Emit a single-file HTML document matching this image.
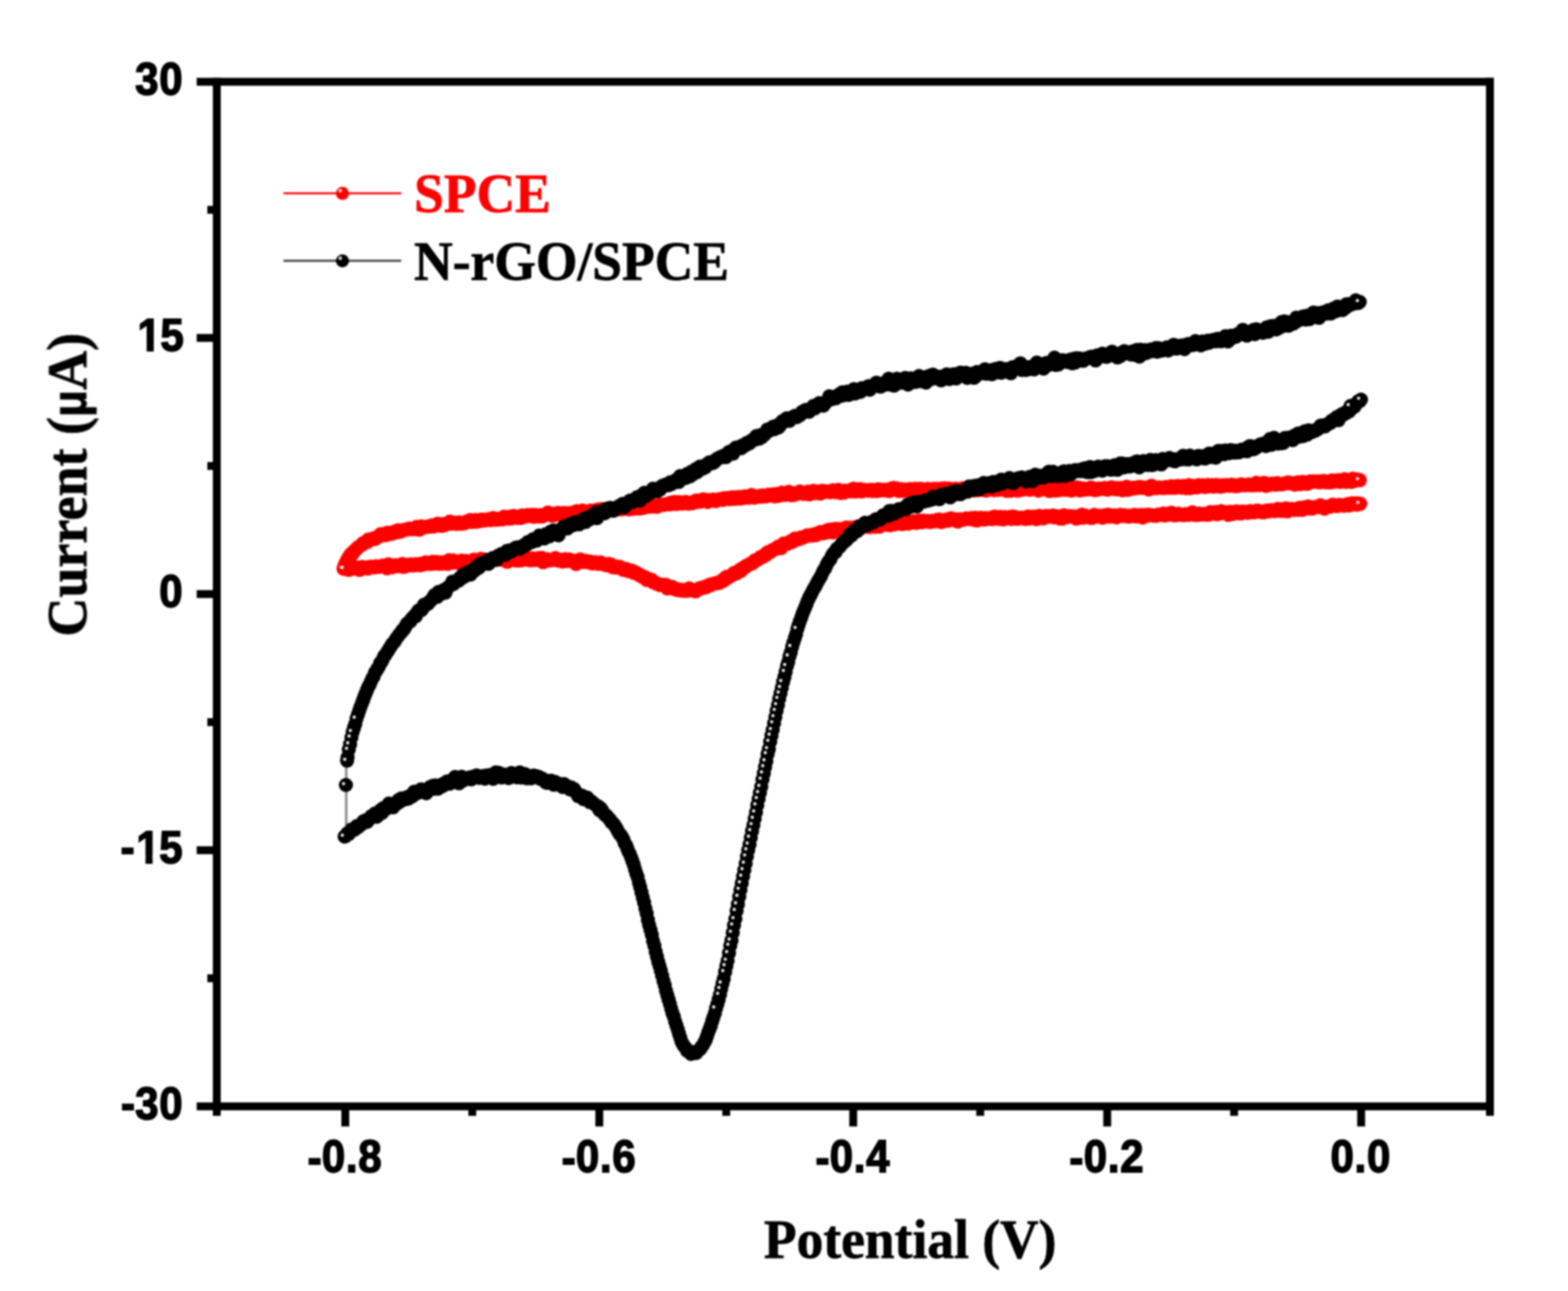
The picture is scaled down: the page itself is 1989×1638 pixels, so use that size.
<!DOCTYPE html>
<html lang="en"><head><meta charset="utf-8"><title>Cyclic voltammogram: SPCE vs N-rGO/SPCE</title>
<style>
html,body{margin:0;padding:0;background:#fff;}
body{width:1989px;height:1638px;overflow:hidden;}
svg{display:block;}
.tick{font-family:"Liberation Sans",Arial,Helvetica,sans-serif;font-weight:700;font-size:57.5px;letter-spacing:1px;fill:#000;stroke:#000;stroke-width:1.9px;stroke-linejoin:miter;}
.ttl{font-family:"Liberation Serif","Times New Roman",Times,serif;font-weight:700;font-size:70px;fill:#000;stroke:#000;stroke-width:.9px;}
.red{fill:#f00;stroke:#f00;}
.mu{font-family:"Liberation Sans",Arial,sans-serif;font-size:63px;stroke-width:.6px;}
</style></head><body>
<svg width="1989" height="1638" viewBox="0 0 1989 1638">
<defs><filter id="soft" color-interpolation-filters="sRGB" x="0" y="0" width="1989" height="1638" filterUnits="userSpaceOnUse"><feGaussianBlur stdDeviation="0.95"/></filter></defs>
<rect width="1989" height="1638" fill="#fff"/>
<g filter="url(#soft)">
<g stroke="#000" stroke-width="10.0" fill="none" stroke-linecap="butt">
<path d="M275.0 98.8V1415.8"/>
<path d="M1890.0 98.8V1415.8"/>
<path d="M249.5 103.8H1895.0"/>
<path d="M249.5 1403.8H1895.0"/>
<path d="M249.5 428.8H275.0M249.5 753.8H275.0M249.5 1078.8H275.0M263.0 266.3H275.0M263.0 591.3H275.0M263.0 916.3H275.0M263.0 1241.3H275.0M438.0 1403.8V1429.3M760.2 1403.8V1429.3M1082.3 1403.8V1429.3M1404.5 1403.8V1429.3M1726.6 1403.8V1429.3M599.1 1403.8V1415.8M921.2 1403.8V1415.8M1243.4 1403.8V1415.8M1565.5 1403.8V1415.8"/>
</g>
<text class="tick" transform="translate(232.6 120.1) scale(0.925 1)" text-anchor="end">30</text>
<text class="tick" transform="translate(232.6 445.1) scale(0.925 1)" text-anchor="end"><tspan dx="1.6">1</tspan><tspan dx="-1.6">5</tspan></text>
<text class="tick" transform="translate(232.6 770.1) scale(0.925 1)" text-anchor="end">0</text>
<text class="tick" transform="translate(232.6 1095.1) scale(0.925 1)" text-anchor="end"><tspan dy="-0.4">-</tspan><tspan dy="0.4" dx="-0.6"><tspan dx="1.6">1</tspan><tspan dx="-1.6">5</tspan></tspan></text>
<text class="tick" transform="translate(232.6 1420.1) scale(0.925 1)" text-anchor="end"><tspan dy="-0.4">-</tspan><tspan dy="0.4" dx="-0.6">30</tspan></text>
<text class="tick" transform="translate(437.6 1487) scale(0.925 1)" text-anchor="middle"><tspan dy="2.4">-</tspan><tspan dy="-2.4" dx="-0.6">0.8</tspan></text>
<text class="tick" transform="translate(759.8 1487) scale(0.925 1)" text-anchor="middle"><tspan dy="2.4">-</tspan><tspan dy="-2.4" dx="-0.6">0.6</tspan></text>
<text class="tick" transform="translate(1081.9 1487) scale(0.925 1)" text-anchor="middle"><tspan dy="2.4">-</tspan><tspan dy="-2.4" dx="-0.6">0.4</tspan></text>
<text class="tick" transform="translate(1404.0 1487) scale(0.925 1)" text-anchor="middle"><tspan dy="2.4">-</tspan><tspan dy="-2.4" dx="-0.6">0.2</tspan></text>
<text class="tick" transform="translate(1726.2 1487) scale(0.925 1)" text-anchor="middle">0.0</text>
<text class="ttl" transform="translate(1154.6 1595.6) scale(0.969 1)" text-anchor="middle">Potential (V)</text>
<text class="ttl" style="font-size:72px" transform="translate(109.4 615) rotate(-90) scale(0.952 1)" text-anchor="middle">Current (<tspan class="mu">µ</tspan>A)</text>
<path d="M359.5 245.3H509" stroke="#f00" stroke-width="2.6" fill="none"/>
<circle cx="434.4" cy="245.4" r="8.3" fill="#f00"/><circle cx="431.6" cy="242" r="2.3" fill="#fff" opacity=".85"/>
<text class="ttl red" transform="translate(525.3 268.8) scale(0.969 1)">SPCE</text>
<path d="M359.5 330.9H509" stroke="#444" stroke-width="2.6" fill="none"/>
<circle cx="434.4" cy="331" r="8.3" fill="#000"/><circle cx="431.6" cy="327.6" r="2.3" fill="#fff" opacity=".85"/>
<text class="ttl" transform="translate(525.3 355) scale(0.969 1)">N-rGO/SPCE</text>
<g fill="none" stroke-linecap="round" stroke-linejoin="round">
<path d="M439.2 970V1054" stroke="#8e8e8e" stroke-width="3.3" stroke-linecap="butt"/>
<path d="M437.1 721.6h0M438.8 721.5h0M440.5 719.3h0M442.3 723.0h0M444.0 719.5h0M445.7 720.4h0M447.5 721.6h0M449.2 719.8h0M450.9 719.9h0M452.7 720.0h0M454.4 721.4h0M456.1 723.0h0M457.9 720.7h0M459.6 719.4h0M461.4 721.0h0M463.1 719.8h0M464.8 720.2h0M466.6 721.3h0M468.3 719.3h0M470.0 720.0h0M471.8 719.0h0M473.5 719.6h0M475.3 719.9h0M477.0 718.6h0M478.7 719.1h0M480.5 719.1h0M482.2 718.6h0M484.0 718.0h0M485.7 717.6h0M487.5 718.8h0M489.2 718.6h0M491.0 721.0h0M492.7 716.2h0M494.4 718.6h0M496.2 718.8h0M497.9 719.6h0M499.7 718.7h0M501.4 717.2h0M503.2 717.9h0M504.9 718.4h0M506.7 717.4h0M508.4 718.4h0M510.2 715.6h0M511.9 719.1h0M513.7 718.7h0M515.4 716.8h0M517.2 717.6h0M518.9 717.0h0M520.7 716.0h0M522.4 716.8h0M524.2 717.5h0M525.9 716.1h0M527.7 715.9h0M529.4 716.1h0M531.2 716.5h0M532.9 717.2h0M534.7 715.2h0M536.4 716.2h0M538.2 715.8h0M539.9 713.6h0M541.7 715.0h0M543.4 715.1h0M545.2 715.1h0M546.9 715.4h0M548.7 712.9h0M550.4 714.8h0M552.2 714.0h0M553.9 713.1h0M555.7 715.0h0M557.4 715.1h0M559.2 713.6h0M561.0 715.0h0M562.7 713.6h0M564.5 714.0h0M566.2 712.7h0M568.0 715.3h0M569.7 710.9h0M571.5 713.4h0M573.2 714.0h0M575.0 711.2h0M576.7 713.0h0M578.5 713.0h0M580.3 713.8h0M582.0 714.1h0M583.8 712.3h0M585.5 711.3h0M587.3 713.9h0M589.0 713.7h0M590.8 711.9h0M592.5 712.6h0M594.3 712.5h0M596.1 712.6h0M597.8 712.2h0M599.6 713.3h0M601.3 710.1h0M603.1 712.7h0M604.8 712.0h0M606.6 711.3h0M608.3 712.6h0M610.1 709.0h0M611.9 712.4h0M613.6 711.6h0M615.4 710.0h0M617.1 711.5h0M618.9 710.7h0M620.6 713.5h0M622.4 712.7h0M624.1 711.2h0M625.9 710.0h0M627.6 710.1h0M629.4 710.3h0M631.2 710.0h0M632.9 709.6h0M634.7 709.8h0M636.4 710.1h0M638.2 709.8h0M639.9 709.6h0M641.7 709.3h0M643.4 712.7h0M645.2 708.7h0M646.9 709.1h0M648.7 710.5h0M650.4 709.7h0M652.2 710.4h0M653.9 710.7h0M655.7 711.2h0M657.4 710.6h0M659.2 708.9h0M660.9 711.0h0M662.7 708.1h0M664.5 709.7h0M666.2 709.3h0M668.0 708.7h0M669.7 710.4h0M671.5 709.6h0M673.2 710.8h0M674.9 708.3h0M676.7 710.6h0M678.4 710.3h0M680.2 709.9h0M681.9 708.4h0M683.7 709.6h0M685.4 708.3h0M687.2 707.8h0M688.9 713.2h0M690.7 710.9h0M692.4 711.8h0M694.2 709.6h0M695.9 710.7h0M697.7 710.8h0M699.4 710.7h0M701.1 710.2h0M702.9 710.0h0M704.6 708.2h0M706.4 710.9h0M708.1 710.8h0M709.9 711.6h0M711.6 710.3h0M713.3 712.3h0M715.1 710.2h0M716.8 709.5h0M718.6 711.8h0M720.3 710.5h0M722.1 709.8h0M723.8 711.2h0M725.5 712.0h0M727.3 711.6h0M729.0 711.9h0M730.7 715.6h0M732.5 712.5h0M734.2 713.3h0M735.9 709.9h0M737.7 712.4h0M739.4 713.0h0M741.1 712.0h0M742.9 711.6h0M744.6 713.1h0M746.3 712.5h0M748.1 712.5h0M749.8 714.4h0M751.5 714.8h0M753.2 714.0h0M755.0 713.4h0M756.7 714.6h0M758.4 715.2h0M760.1 715.2h0M761.8 713.5h0M763.5 714.9h0M765.2 715.8h0M767.0 716.4h0M768.7 717.0h0M770.4 717.2h0M772.1 715.7h0M773.8 716.5h0M775.5 716.4h0M777.2 719.6h0M778.9 718.5h0M780.6 719.3h0M782.2 720.2h0M783.9 719.4h0M785.6 719.1h0M787.3 720.2h0M789.0 721.0h0M790.7 723.0h0M792.3 723.0h0M794.0 721.8h0M795.7 723.9h0M797.3 724.6h0M799.0 723.7h0M800.7 725.1h0M802.3 724.3h0M804.0 726.9h0M805.6 727.0h0M807.3 726.8h0M808.9 728.1h0M810.6 729.6h0M812.2 729.7h0M813.8 731.2h0M815.5 732.1h0M817.1 731.8h0M818.7 733.0h0M820.4 735.7h0M822.0 734.8h0M823.6 734.8h0M825.3 736.3h0M826.9 735.9h0M828.5 738.7h0M830.2 738.8h0M831.8 740.1h0M833.4 740.7h0M835.0 740.9h0M836.7 742.1h0M838.3 742.1h0M839.9 742.0h0M841.6 742.3h0M843.2 743.4h0M844.8 742.1h0M846.5 746.6h0M848.1 743.9h0M849.7 745.9h0M851.4 745.2h0M853.0 744.9h0M854.6 747.1h0M856.3 747.3h0M857.9 747.7h0M859.6 748.7h0M861.2 747.8h0M862.9 749.0h0M864.5 749.3h0M866.1 748.6h0M867.8 748.8h0M869.4 749.7h0M871.1 749.2h0M872.7 749.3h0M874.3 746.7h0M876.0 749.0h0M877.6 749.2h0M879.3 748.5h0M880.9 748.8h0M882.5 750.1h0M884.2 748.0h0M885.8 748.2h0M887.4 746.4h0M889.0 746.1h0M890.7 746.0h0M892.3 745.1h0M893.9 745.5h0M895.5 744.2h0M897.1 744.4h0M898.8 742.7h0M900.4 741.9h0M902.0 742.2h0M903.6 741.2h0M905.4 740.8h0M907.3 740.1h0M909.1 739.5h0M910.9 739.8h0M912.8 739.2h0M914.6 737.8h0M916.4 736.1h0M918.2 736.6h0M920.0 733.3h0M921.8 731.9h0M923.7 732.7h0M925.5 731.5h0M927.3 730.4h0M929.1 729.5h0M930.9 727.2h0M932.7 726.5h0M934.5 727.2h0M936.3 726.0h0M938.0 723.6h0M939.8 724.4h0M941.6 721.2h0M943.4 720.4h0M945.1 719.9h0M946.9 717.8h0M948.7 717.2h0M950.4 716.3h0M952.2 715.0h0M954.0 714.8h0M955.7 713.6h0M957.5 711.2h0M959.2 710.5h0M961.0 710.0h0M962.7 708.8h0M964.4 707.2h0M966.2 707.0h0M967.9 706.2h0M969.7 704.1h0M971.4 704.2h0M973.1 701.3h0M974.9 700.3h0M976.6 700.9h0M978.4 698.9h0M980.1 697.8h0M981.8 697.4h0M983.6 696.1h0M985.4 696.0h0M987.1 693.6h0M988.9 693.6h0M990.6 695.5h0M992.4 692.2h0M994.2 689.7h0M996.0 690.8h0M997.7 690.0h0M999.5 689.9h0M1001.3 688.0h0M1003.1 686.6h0M1004.9 687.6h0M1006.7 686.2h0M1008.6 683.3h0M1010.4 684.9h0M1012.2 683.3h0M1013.9 683.9h0M1015.5 682.1h0M1017.1 682.6h0M1018.8 681.5h0M1020.4 681.3h0M1022.0 680.3h0M1023.7 679.4h0M1025.4 679.4h0M1027.0 679.5h0M1028.7 678.8h0M1030.4 679.5h0M1032.0 678.0h0M1033.7 677.8h0M1035.4 678.8h0M1037.1 676.5h0M1038.8 676.6h0M1040.5 675.1h0M1042.2 675.4h0M1043.9 676.6h0M1045.6 675.0h0M1047.3 675.8h0M1049.1 673.0h0M1050.8 672.4h0M1052.5 673.7h0M1054.2 671.8h0M1056.0 675.5h0M1057.7 673.8h0M1059.4 671.1h0M1061.2 671.9h0M1062.9 671.3h0M1064.6 672.0h0M1066.4 671.3h0M1068.1 672.0h0M1069.9 672.3h0M1071.6 670.5h0M1073.4 669.3h0M1075.1 670.8h0M1076.9 669.9h0M1078.6 670.9h0M1080.4 669.5h0M1082.1 670.2h0M1083.8 669.5h0M1085.6 668.8h0M1087.3 668.4h0M1089.1 669.3h0M1090.8 670.9h0M1092.6 669.1h0M1094.3 667.9h0M1096.1 668.6h0M1097.8 667.8h0M1099.6 666.2h0M1101.3 667.6h0M1103.1 668.7h0M1104.8 666.7h0M1106.6 665.7h0M1108.3 667.1h0M1110.1 668.3h0M1111.8 667.2h0M1113.6 667.1h0M1115.3 668.2h0M1117.1 667.4h0M1118.8 666.3h0M1120.6 665.3h0M1122.3 665.5h0M1124.1 665.1h0M1125.8 665.9h0M1127.6 664.0h0M1129.3 666.3h0M1131.1 664.7h0M1132.8 664.0h0M1134.6 665.1h0M1136.3 662.1h0M1138.0 663.2h0M1139.8 663.2h0M1141.5 664.5h0M1143.3 663.1h0M1145.0 664.9h0M1146.8 662.9h0M1148.5 663.7h0M1150.3 662.4h0M1152.0 664.1h0M1153.8 662.6h0M1155.5 663.2h0M1157.3 662.1h0M1159.0 661.4h0M1160.8 662.1h0M1162.5 663.3h0M1164.3 661.1h0M1166.0 660.5h0M1167.8 661.6h0M1169.5 662.6h0M1171.3 660.6h0M1173.0 661.0h0M1174.8 661.6h0M1176.5 661.0h0M1178.3 661.5h0M1180.0 662.3h0M1181.7 661.1h0M1183.5 660.9h0M1185.2 661.6h0M1187.0 660.7h0M1188.7 659.7h0M1190.5 659.6h0M1192.2 659.4h0M1194.0 662.3h0M1195.7 660.3h0M1197.5 660.8h0M1199.2 660.8h0M1201.0 659.1h0M1202.7 660.6h0M1204.5 659.3h0M1206.2 657.7h0M1208.0 659.5h0M1209.7 658.6h0M1211.5 659.2h0M1213.2 659.8h0M1215.0 661.7h0M1216.7 658.8h0M1218.5 659.1h0M1220.2 659.6h0M1222.0 659.3h0M1223.7 658.9h0M1225.4 657.9h0M1227.2 658.0h0M1228.9 658.7h0M1230.7 657.6h0M1232.4 658.1h0M1234.2 657.4h0M1235.9 659.7h0M1237.7 657.0h0M1239.4 660.4h0M1241.2 657.8h0M1242.9 657.3h0M1244.7 657.1h0M1246.4 659.0h0M1248.2 659.2h0M1249.9 657.3h0M1251.7 658.4h0M1253.4 657.9h0M1255.2 657.7h0M1256.9 658.1h0M1258.7 658.6h0M1260.4 655.9h0M1262.2 655.5h0M1263.9 657.9h0M1265.7 657.6h0M1267.4 658.3h0M1269.2 655.9h0M1270.9 656.5h0M1272.6 659.0h0M1274.4 656.1h0M1276.1 657.7h0M1277.9 656.5h0M1279.6 656.9h0M1281.4 655.9h0M1283.1 658.4h0M1284.9 655.3h0M1286.6 655.9h0M1288.4 656.2h0M1290.1 658.2h0M1291.9 657.3h0M1293.6 657.6h0M1295.4 656.9h0M1297.1 657.1h0M1298.9 657.3h0M1300.6 658.4h0M1302.4 657.0h0M1304.1 655.3h0M1305.9 657.9h0M1307.6 656.8h0M1309.4 655.5h0M1311.1 656.4h0M1312.9 655.6h0M1314.6 658.6h0M1316.4 656.2h0M1318.1 654.5h0M1319.9 656.7h0M1321.6 655.6h0M1323.4 657.7h0M1325.1 656.5h0M1326.9 654.5h0M1328.6 655.8h0M1330.4 655.2h0M1332.1 655.5h0M1333.9 655.6h0M1335.6 654.2h0M1337.4 656.3h0M1339.1 655.2h0M1340.9 655.2h0M1342.6 656.8h0M1344.4 657.9h0M1346.1 655.4h0M1347.9 657.8h0M1349.6 653.9h0M1351.4 656.5h0M1353.1 655.3h0M1354.9 655.8h0M1356.6 654.8h0M1358.4 655.2h0M1360.1 655.4h0M1361.9 655.4h0M1363.6 656.1h0M1365.4 658.0h0M1367.1 655.0h0M1368.9 655.5h0M1370.6 653.8h0M1372.4 653.0h0M1374.1 656.9h0M1375.9 654.2h0M1377.6 654.7h0M1379.4 655.4h0M1381.1 656.3h0M1382.9 655.7h0M1384.6 657.2h0M1386.4 655.1h0M1388.1 653.4h0M1389.9 655.4h0M1391.6 655.3h0M1393.4 654.4h0M1395.1 654.8h0M1396.9 654.5h0M1398.6 656.8h0M1400.4 654.4h0M1402.1 653.6h0M1403.9 655.3h0M1405.6 653.1h0M1407.4 655.4h0M1409.1 655.3h0M1410.9 654.0h0M1412.6 654.3h0M1414.4 654.2h0M1416.1 656.4h0M1417.9 655.1h0M1419.6 653.5h0M1421.4 653.4h0M1423.1 654.6h0M1424.9 654.6h0M1426.6 653.8h0M1428.4 654.8h0M1430.1 654.3h0M1431.9 655.5h0M1433.6 654.9h0M1435.4 654.3h0M1437.1 654.5h0M1438.9 653.4h0M1440.6 655.2h0M1442.4 654.6h0M1444.1 653.8h0M1445.9 654.3h0M1447.6 653.6h0M1449.4 656.6h0M1451.1 653.6h0M1452.9 654.5h0M1454.6 654.3h0M1456.4 653.1h0M1458.1 653.9h0M1459.9 653.5h0M1461.6 654.0h0M1463.4 654.0h0M1465.1 654.5h0M1466.9 654.4h0M1468.6 653.2h0M1470.4 653.1h0M1472.1 652.9h0M1473.9 652.6h0M1475.6 651.7h0M1477.4 654.0h0M1479.1 653.3h0M1480.9 653.1h0M1482.6 651.6h0M1484.4 651.7h0M1486.1 650.6h0M1487.9 653.0h0M1489.6 653.7h0M1491.4 653.6h0M1493.1 652.9h0M1494.9 651.8h0M1496.6 652.9h0M1498.4 652.8h0M1500.1 653.5h0M1501.9 653.5h0M1503.6 652.4h0M1505.4 652.6h0M1507.1 653.2h0M1508.9 652.9h0M1510.6 652.3h0M1512.4 650.2h0M1514.1 651.7h0M1515.9 653.1h0M1517.6 652.4h0M1519.4 653.1h0M1521.1 651.7h0M1522.9 652.1h0M1524.6 652.8h0M1526.4 652.6h0M1528.1 652.2h0M1529.9 652.9h0M1531.6 653.0h0M1533.4 653.0h0M1535.1 649.9h0M1536.9 651.0h0M1538.6 651.1h0M1540.4 651.0h0M1542.1 649.7h0M1543.9 652.5h0M1545.6 650.2h0M1547.4 651.2h0M1549.1 648.6h0M1550.9 650.5h0M1552.6 650.6h0M1554.4 649.9h0M1556.1 651.5h0M1557.9 653.1h0M1559.6 649.7h0M1561.4 649.7h0M1563.1 652.2h0M1564.9 650.9h0M1566.6 650.0h0M1568.4 648.9h0M1570.1 650.9h0M1571.9 650.3h0M1573.6 651.5h0M1575.4 649.0h0M1577.1 649.6h0M1578.9 649.4h0M1580.6 649.4h0M1582.4 650.6h0M1584.1 650.3h0M1585.9 648.7h0M1587.6 649.2h0M1589.3 649.0h0M1591.1 650.0h0M1592.8 648.9h0M1594.6 647.8h0M1596.3 648.5h0M1598.1 648.7h0M1599.8 649.6h0M1601.6 649.8h0M1603.3 649.8h0M1605.1 648.7h0M1606.8 647.8h0M1608.6 648.8h0M1610.3 647.9h0M1612.1 647.3h0M1613.8 648.2h0M1615.6 648.2h0M1617.3 648.5h0M1619.0 646.7h0M1620.8 645.8h0M1622.5 647.8h0M1624.3 646.3h0M1626.0 648.1h0M1627.8 645.9h0M1629.5 646.3h0M1631.3 645.0h0M1633.0 648.7h0M1634.8 646.1h0M1636.5 646.4h0M1638.3 645.8h0M1640.0 646.0h0M1641.7 646.9h0M1643.5 646.1h0M1645.2 645.8h0M1647.0 646.9h0M1648.7 644.3h0M1650.5 646.6h0M1652.2 646.9h0M1654.0 643.8h0M1655.7 645.4h0M1657.4 643.7h0M1659.2 642.7h0M1660.9 643.9h0M1662.7 645.1h0M1664.4 645.2h0M1666.2 644.0h0M1667.9 643.3h0M1669.7 643.6h0M1671.4 643.2h0M1673.1 643.1h0M1674.9 641.2h0M1676.6 643.3h0M1678.4 643.2h0M1680.1 645.4h0M1681.9 643.7h0M1683.6 642.8h0M1685.3 642.8h0M1687.1 642.9h0M1688.8 641.8h0M1690.6 640.3h0M1692.3 641.4h0M1694.1 641.8h0M1695.8 642.0h0M1697.5 641.0h0M1699.3 640.6h0M1701.0 641.1h0M1702.8 641.3h0M1704.5 641.6h0M1706.2 640.7h0M1708.0 641.2h0M1709.7 639.6h0M1711.5 641.2h0M1713.2 640.2h0M1714.9 638.7h0M1716.7 639.7h0M1718.4 639.8h0M1720.2 638.5h0M1721.9 640.1h0M1723.6 638.9h0M1725.4 639.1h0" stroke="#f00" stroke-width="18.2"/>
<path d="M1724.8 609.2h0M1723.1 608.7h0M1721.3 608.8h0M1719.6 608.4h0M1717.8 610.4h0M1716.1 607.3h0M1714.3 611.4h0M1712.6 609.0h0M1710.8 610.1h0M1709.1 609.7h0M1707.3 611.4h0M1705.6 608.0h0M1703.8 609.8h0M1702.1 609.8h0M1700.3 611.4h0M1698.6 609.3h0M1696.8 610.3h0M1695.1 609.7h0M1693.3 610.7h0M1691.6 611.3h0M1689.8 609.7h0M1688.1 612.0h0M1686.3 611.8h0M1684.6 611.5h0M1682.8 612.0h0M1681.1 610.5h0M1679.3 611.1h0M1677.6 610.4h0M1675.8 611.1h0M1674.1 612.0h0M1672.3 610.9h0M1670.6 611.2h0M1668.8 611.0h0M1667.1 610.9h0M1665.3 611.2h0M1663.6 611.9h0M1661.8 610.9h0M1660.1 612.3h0M1658.3 613.8h0M1656.6 613.0h0M1654.8 612.1h0M1653.1 611.5h0M1651.4 611.7h0M1649.6 614.2h0M1647.9 612.6h0M1646.1 612.0h0M1644.4 612.9h0M1642.6 614.9h0M1640.9 613.0h0M1639.1 613.6h0M1637.4 613.3h0M1635.6 612.7h0M1633.9 612.0h0M1632.1 612.9h0M1630.4 613.1h0M1628.6 614.0h0M1626.9 614.3h0M1625.1 614.4h0M1623.4 613.9h0M1621.6 614.5h0M1619.9 613.0h0M1618.1 615.0h0M1616.4 614.4h0M1614.6 613.6h0M1612.9 614.5h0M1611.1 614.0h0M1609.4 615.3h0M1607.6 615.7h0M1605.9 616.4h0M1604.1 612.9h0M1602.4 612.9h0M1600.6 613.9h0M1598.9 614.7h0M1597.1 615.5h0M1595.4 615.0h0M1593.6 612.7h0M1591.9 614.5h0M1590.1 615.7h0M1588.4 615.1h0M1586.6 615.7h0M1584.9 614.8h0M1583.2 614.9h0M1581.4 615.3h0M1579.7 615.6h0M1577.9 615.5h0M1576.2 615.5h0M1574.4 614.7h0M1572.7 615.8h0M1570.9 615.7h0M1569.2 616.7h0M1567.4 616.9h0M1565.7 615.9h0M1563.9 615.4h0M1562.2 615.2h0M1560.4 616.3h0M1558.7 616.0h0M1556.9 615.7h0M1555.2 616.1h0M1553.4 615.5h0M1551.7 616.9h0M1549.9 615.8h0M1548.2 617.5h0M1546.4 616.8h0M1544.7 617.0h0M1542.9 615.4h0M1541.2 616.7h0M1539.4 617.3h0M1537.7 615.7h0M1535.9 616.4h0M1534.2 616.8h0M1532.4 615.4h0M1530.7 617.2h0M1528.9 617.8h0M1527.2 616.1h0M1525.5 617.4h0M1523.7 615.8h0M1522.0 617.1h0M1520.2 615.6h0M1518.5 618.3h0M1516.7 617.7h0M1515.0 617.3h0M1513.2 616.6h0M1511.5 618.7h0M1509.7 619.4h0M1508.0 615.7h0M1506.2 618.8h0M1504.5 619.3h0M1502.7 618.0h0M1501.0 616.5h0M1499.2 618.6h0M1497.5 617.6h0M1495.7 617.3h0M1494.0 616.7h0M1492.2 618.5h0M1490.5 618.8h0M1488.7 617.4h0M1487.0 618.6h0M1485.2 617.0h0M1483.5 619.0h0M1481.7 618.3h0M1480.0 618.1h0M1478.2 618.2h0M1476.5 619.2h0M1474.7 619.2h0M1473.0 619.0h0M1471.2 618.6h0M1469.5 618.6h0M1467.7 619.2h0M1466.0 618.8h0M1464.2 619.3h0M1462.5 618.4h0M1460.7 616.3h0M1459.0 619.8h0M1457.3 621.0h0M1455.5 619.3h0M1453.8 618.8h0M1452.0 618.8h0M1450.3 618.8h0M1448.5 619.0h0M1446.8 617.9h0M1445.0 618.6h0M1443.3 618.1h0M1441.5 619.4h0M1439.8 618.9h0M1438.0 619.7h0M1436.3 619.1h0M1434.5 620.3h0M1432.8 619.5h0M1431.0 621.5h0M1429.3 617.5h0M1427.5 618.8h0M1425.8 620.3h0M1424.0 622.0h0M1422.3 619.3h0M1420.5 619.6h0M1418.8 619.3h0M1417.0 620.9h0M1415.3 619.3h0M1413.5 620.3h0M1411.8 619.4h0M1410.0 618.4h0M1408.3 620.1h0M1406.5 620.3h0M1404.8 621.1h0M1403.0 619.7h0M1401.3 619.2h0M1399.5 620.4h0M1397.8 620.1h0M1396.0 620.2h0M1394.3 619.9h0M1392.5 621.1h0M1390.8 620.4h0M1389.0 621.9h0M1387.3 621.2h0M1385.5 620.7h0M1383.8 618.5h0M1382.0 620.7h0M1380.3 620.5h0M1378.5 621.0h0M1376.8 621.2h0M1375.0 619.8h0M1373.3 621.0h0M1371.5 619.7h0M1369.8 622.2h0M1368.0 618.9h0M1366.3 618.5h0M1364.5 618.6h0M1362.8 619.4h0M1361.0 619.2h0M1359.3 622.3h0M1357.5 620.0h0M1355.8 619.0h0M1354.0 621.5h0M1352.3 619.8h0M1350.5 619.2h0M1348.8 621.3h0M1347.0 621.1h0M1345.3 620.0h0M1343.5 621.9h0M1341.8 620.6h0M1340.0 622.1h0M1338.3 621.0h0M1336.5 622.1h0M1334.7 620.6h0M1333.0 619.3h0M1331.2 623.0h0M1329.5 620.0h0M1327.7 620.3h0M1326.0 619.8h0M1324.2 620.4h0M1322.5 620.8h0M1320.7 620.8h0M1319.0 621.2h0M1317.2 622.4h0M1315.5 620.5h0M1313.7 619.4h0M1312.0 619.4h0M1310.2 619.9h0M1308.5 618.9h0M1306.7 621.4h0M1305.0 620.1h0M1303.2 620.3h0M1301.5 620.6h0M1299.7 619.2h0M1298.0 619.8h0M1296.2 621.3h0M1294.5 621.3h0M1292.7 620.2h0M1291.0 622.5h0M1289.2 619.4h0M1287.5 620.3h0M1285.7 620.4h0M1284.0 617.9h0M1282.2 622.6h0M1280.4 621.0h0M1278.7 619.6h0M1276.9 622.7h0M1275.2 621.3h0M1273.4 621.1h0M1271.7 620.1h0M1269.9 620.8h0M1268.2 619.2h0M1266.4 621.5h0M1264.7 620.3h0M1262.9 620.8h0M1261.2 621.9h0M1259.4 621.0h0M1257.7 621.0h0M1255.9 621.0h0M1254.2 620.0h0M1252.4 621.6h0M1250.7 622.3h0M1248.9 621.5h0M1247.2 621.6h0M1245.4 619.9h0M1243.7 619.9h0M1241.9 619.3h0M1240.2 622.0h0M1238.4 620.5h0M1236.6 622.2h0M1234.9 620.0h0M1233.1 620.3h0M1231.4 620.9h0M1229.6 621.7h0M1227.9 620.9h0M1226.1 621.0h0M1224.4 620.8h0M1222.6 621.0h0M1220.9 619.7h0M1219.1 620.9h0M1217.4 620.6h0M1215.6 620.8h0M1213.9 621.3h0M1212.1 620.2h0M1210.4 620.8h0M1208.6 620.6h0M1206.9 621.3h0M1205.1 621.7h0M1203.4 619.9h0M1201.6 621.5h0M1199.9 623.0h0M1198.1 619.5h0M1196.4 620.1h0M1194.6 620.1h0M1192.9 620.7h0M1191.1 622.6h0M1189.4 621.0h0M1187.6 620.3h0M1185.8 621.6h0M1184.1 620.4h0M1182.3 622.2h0M1180.6 621.4h0M1178.8 622.5h0M1177.1 620.4h0M1175.3 624.1h0M1173.6 621.9h0M1171.8 621.8h0M1170.1 621.1h0M1168.3 620.4h0M1166.6 620.3h0M1164.8 621.1h0M1163.1 620.4h0M1161.3 621.5h0M1159.6 620.4h0M1157.8 621.9h0M1156.1 622.3h0M1154.3 620.6h0M1152.6 622.5h0M1150.8 621.1h0M1149.1 622.5h0M1147.3 621.9h0M1145.6 622.6h0M1143.8 620.5h0M1142.1 621.4h0M1140.3 623.0h0M1138.6 620.9h0M1136.8 619.5h0M1135.1 619.7h0M1133.3 619.1h0M1131.6 619.5h0M1129.8 621.3h0M1128.1 623.0h0M1126.3 621.3h0M1124.6 622.1h0M1122.8 621.7h0M1121.1 621.9h0M1119.3 621.7h0M1117.6 621.8h0M1115.8 622.4h0M1114.1 620.8h0M1112.3 623.0h0M1110.6 623.0h0M1108.8 621.9h0M1107.1 623.0h0M1105.3 621.5h0M1103.6 621.7h0M1101.8 622.4h0M1100.1 622.1h0M1098.3 621.9h0M1096.6 621.7h0M1094.8 621.9h0M1093.1 623.5h0M1091.3 620.6h0M1089.6 623.0h0M1087.8 622.4h0M1086.1 623.4h0M1084.3 623.3h0M1082.6 620.0h0M1080.8 623.5h0M1079.1 623.2h0M1077.3 623.0h0M1075.6 622.6h0M1073.8 623.9h0M1072.1 622.7h0M1070.3 625.0h0M1068.6 623.8h0M1066.8 625.5h0M1065.1 622.6h0M1063.4 621.7h0M1061.6 624.2h0M1059.9 624.4h0M1058.1 623.7h0M1056.4 622.2h0M1054.6 623.3h0M1052.9 624.5h0M1051.1 623.8h0M1049.4 623.9h0M1047.6 623.9h0M1045.9 623.2h0M1044.1 623.7h0M1042.4 622.9h0M1040.6 626.2h0M1038.9 624.0h0M1037.1 625.0h0M1035.4 623.6h0M1033.7 625.5h0M1031.9 622.9h0M1030.2 625.8h0M1028.4 624.9h0M1026.7 627.2h0M1024.9 623.8h0M1023.2 625.3h0M1021.4 625.7h0M1019.7 626.6h0M1017.9 625.1h0M1016.2 625.7h0M1014.4 623.6h0M1012.7 625.0h0M1011.0 626.3h0M1009.2 627.1h0M1007.5 625.8h0M1005.7 628.2h0M1004.0 628.1h0M1002.2 626.3h0M1000.5 624.1h0M998.7 624.9h0M997.0 626.0h0M995.3 628.0h0M993.5 627.3h0M991.8 625.0h0M990.0 627.0h0M988.3 628.9h0M986.5 627.0h0M984.8 626.8h0M983.0 629.7h0M981.3 627.8h0M979.6 627.4h0M977.8 628.4h0M976.1 628.2h0M974.3 627.9h0M972.6 629.6h0M970.8 629.7h0M969.1 629.5h0M967.4 628.7h0M965.6 630.1h0M963.9 629.0h0M962.1 629.7h0M960.4 630.4h0M958.6 630.3h0M956.9 631.4h0M955.2 630.2h0M953.4 628.2h0M951.7 628.9h0M949.9 631.5h0M948.2 630.0h0M946.4 630.9h0M944.7 629.8h0M943.0 631.8h0M941.2 630.6h0M939.5 632.5h0M937.7 630.7h0M936.0 632.5h0M934.3 632.2h0M932.5 631.0h0M930.8 633.0h0M929.0 631.1h0M927.3 631.4h0M925.5 633.1h0M923.8 631.9h0M922.1 632.1h0M920.3 632.5h0M918.6 632.0h0M916.8 634.2h0M915.1 633.9h0M913.4 633.4h0M911.6 633.5h0M909.9 634.2h0M908.1 635.7h0M906.4 635.0h0M904.6 633.8h0M902.9 635.2h0M901.2 634.5h0M899.4 634.6h0M897.7 636.8h0M895.9 634.7h0M894.2 634.8h0M892.5 633.5h0M890.7 634.2h0M889.0 636.3h0M887.2 635.3h0M885.5 636.7h0M883.7 635.2h0M882.0 635.7h0M880.3 637.3h0M878.5 638.3h0M876.8 637.6h0M875.0 638.4h0M873.3 639.0h0M871.6 638.5h0M869.8 636.8h0M868.1 637.8h0M866.3 638.7h0M864.6 637.8h0M862.8 638.8h0M861.1 637.0h0M859.4 637.9h0M857.6 639.4h0M855.9 636.9h0M854.1 638.1h0M852.4 639.4h0M850.6 637.9h0M848.9 639.8h0M847.2 639.1h0M845.4 639.8h0M843.7 640.0h0M841.9 640.6h0M840.2 640.1h0M838.4 640.9h0M836.7 640.4h0M834.9 641.7h0M833.2 643.0h0M831.5 641.7h0M829.7 641.8h0M828.0 640.6h0M826.2 642.7h0M824.5 641.4h0M822.7 641.5h0M821.0 643.0h0M819.2 642.8h0M817.5 643.9h0M815.8 644.4h0M814.0 642.6h0M812.3 643.4h0M810.5 645.2h0M808.8 644.6h0M807.0 644.5h0M805.3 645.2h0M803.5 643.5h0M801.8 644.9h0M800.0 645.8h0M798.3 646.2h0M796.5 643.9h0M794.8 644.6h0M793.0 645.4h0M791.3 644.9h0M789.5 645.0h0M787.8 646.2h0M786.0 645.3h0M784.3 644.0h0M782.6 646.3h0M780.8 645.7h0M779.1 645.5h0M777.3 644.9h0M775.6 647.6h0M773.8 644.5h0M772.1 645.2h0M770.3 646.7h0M768.6 648.4h0M766.8 648.6h0M765.1 646.3h0M763.3 647.4h0M761.6 646.2h0M759.8 648.9h0M758.1 646.5h0M756.3 648.0h0M754.6 649.3h0M752.8 648.2h0M751.1 650.0h0M749.3 647.8h0M747.6 649.2h0M745.8 649.8h0M744.0 649.0h0M742.3 650.6h0M740.5 649.9h0M738.8 647.9h0M737.0 653.6h0M735.3 650.4h0M733.5 650.0h0M731.8 648.7h0M730.0 650.3h0M728.3 649.9h0M726.6 651.1h0M724.8 651.0h0M723.1 652.6h0M721.3 651.0h0M719.6 651.5h0M717.8 651.5h0M716.1 651.1h0M714.3 651.2h0M712.6 652.6h0M710.8 652.5h0M709.1 651.2h0M707.3 650.8h0M705.6 652.0h0M703.8 653.4h0M702.1 652.3h0M700.3 654.2h0M698.6 651.8h0M696.8 652.9h0M695.1 650.4h0M693.3 652.4h0M691.6 652.9h0M689.9 653.8h0M688.1 655.1h0M686.4 653.6h0M684.6 655.2h0M682.9 654.5h0M681.1 655.0h0M679.4 653.7h0M677.7 655.6h0M675.9 653.3h0M674.2 655.0h0M672.4 653.7h0M670.7 654.3h0M668.9 653.5h0M667.2 654.6h0M665.5 655.6h0M663.7 655.3h0M662.0 654.2h0M660.3 657.2h0M658.5 656.2h0M656.8 657.0h0M655.0 656.9h0M653.3 655.6h0M651.6 654.5h0M649.8 655.7h0M648.1 657.9h0M646.4 655.8h0M644.6 657.8h0M642.9 656.6h0M641.2 657.7h0M639.4 655.7h0M637.7 658.8h0M636.0 657.8h0M634.2 658.8h0M632.5 658.3h0M630.8 659.1h0M629.1 658.3h0M627.3 659.3h0M625.6 657.3h0M623.9 657.8h0M622.2 659.8h0M620.4 659.2h0M618.7 659.2h0M617.0 659.4h0M615.3 660.2h0M613.5 659.3h0M611.8 660.6h0M610.1 659.4h0M608.4 660.0h0M606.7 661.6h0M604.9 661.9h0M603.2 659.9h0M601.5 662.0h0M599.8 660.3h0M598.1 662.2h0M596.4 659.8h0M594.6 660.8h0M592.9 661.6h0M591.2 662.1h0M589.5 663.8h0M587.8 663.5h0M586.1 664.4h0M584.3 664.2h0M582.6 662.9h0M580.9 663.1h0M579.2 664.7h0M577.5 663.8h0M575.8 663.9h0M574.0 662.9h0M572.3 664.3h0M570.6 661.9h0M568.9 664.4h0M567.1 664.1h0M565.4 665.9h0M563.7 665.0h0M561.9 665.3h0M560.2 667.2h0M558.4 665.1h0M556.7 666.6h0M555.0 664.7h0M553.2 666.8h0M551.4 667.4h0M549.7 668.0h0M547.9 666.5h0M546.2 668.0h0M544.4 668.2h0M542.6 668.1h0M540.8 668.5h0M539.1 669.0h0M537.3 669.2h0M535.5 668.1h0M533.7 668.1h0M531.9 672.0h0M530.1 671.7h0M528.3 668.7h0M526.5 670.7h0M524.7 671.2h0M522.9 671.5h0M521.1 671.2h0M519.3 670.5h0M517.5 671.5h0M515.7 671.5h0M514.0 672.4h0M512.2 672.3h0M510.4 672.8h0M508.6 674.2h0M506.8 674.8h0M505.1 672.8h0M503.3 673.9h0M501.5 674.0h0M499.8 676.3h0M498.0 675.5h0M496.3 677.3h0M494.6 676.0h0M492.9 676.9h0M491.1 676.1h0M489.4 679.0h0M487.8 678.0h0M486.1 677.5h0M484.4 678.8h0M482.7 677.9h0M481.1 680.5h0M479.5 681.2h0M477.8 681.9h0M476.2 683.6h0M474.4 682.8h0M472.6 684.5h0M470.8 684.9h0M469.0 685.3h0M467.3 684.7h0M465.6 687.9h0M463.9 687.7h0M462.2 689.1h0M460.6 689.1h0M459.0 691.3h0M457.2 692.4h0M455.5 693.6h0M453.8 694.8h0M452.1 696.8h0M450.4 698.3h0M448.7 699.8h0M447.1 702.7h0M445.3 702.9h0M443.6 705.3h0M442.0 707.6h0M440.3 710.7h0M438.7 713.9h0M437.0 717.6h0M435.9 721.5h0" stroke="#f00" stroke-width="18.2"/>
<path d="M437.2 1061.4h0M439.0 1060.7h0M440.8 1057.2h0M442.6 1058.1h0M444.4 1055.2h0M446.2 1052.2h0M447.8 1052.3h0M449.4 1052.8h0M451.1 1051.3h0M452.7 1048.0h0M454.3 1049.3h0M456.0 1047.1h0M457.6 1046.7h0M459.3 1045.4h0M460.9 1042.0h0M462.6 1043.2h0M464.2 1040.6h0M465.9 1042.7h0M467.6 1040.4h0M469.3 1038.2h0M471.0 1035.5h0M472.6 1036.0h0M474.3 1035.1h0M476.0 1031.9h0M477.7 1036.3h0M479.5 1032.3h0M481.2 1033.4h0M482.9 1027.8h0M484.6 1031.3h0M486.3 1025.3h0M488.1 1025.5h0M489.8 1026.5h0M491.5 1024.7h0M493.3 1019.6h0M495.0 1020.8h0M496.8 1023.1h0M498.6 1024.3h0M500.3 1021.4h0M502.1 1018.4h0M503.9 1019.4h0M505.6 1015.1h0M507.4 1017.1h0M509.2 1012.9h0M511.0 1014.4h0M512.8 1013.3h0M514.6 1014.1h0M516.4 1011.3h0M518.2 1013.2h0M520.0 1009.8h0M521.8 1010.9h0M523.6 1010.0h0M525.5 1004.4h0M527.3 1007.1h0M529.1 1006.3h0M531.0 1004.0h0M532.6 1005.2h0M534.2 1001.4h0M535.8 1004.6h0M537.4 1003.9h0M539.1 1002.9h0M540.7 1006.5h0M542.3 1001.8h0M543.9 1000.7h0M545.6 998.5h0M547.2 1000.0h0M548.9 996.9h0M550.5 1000.8h0M552.2 996.4h0M553.8 997.5h0M555.5 1000.7h0M557.1 998.5h0M558.8 996.1h0M560.4 997.9h0M562.1 994.6h0M563.8 995.8h0M565.4 993.8h0M567.1 991.4h0M568.8 993.7h0M570.5 994.3h0M572.1 991.2h0M573.8 989.3h0M575.5 990.0h0M577.2 985.8h0M578.9 989.1h0M580.6 987.7h0M582.3 993.8h0M584.0 988.0h0M585.7 985.6h0M587.4 990.4h0M589.1 987.8h0M590.8 988.0h0M592.5 988.0h0M594.3 987.7h0M596.0 986.2h0M597.7 988.8h0M599.4 987.6h0M601.2 985.1h0M602.9 985.6h0M604.6 983.7h0M606.4 986.1h0M608.1 986.9h0M609.8 986.5h0M611.6 986.2h0M613.3 984.4h0M615.1 988.0h0M616.8 983.9h0M618.6 984.3h0M620.3 983.4h0M622.1 984.2h0M623.9 983.3h0M625.6 988.2h0M627.4 984.6h0M629.1 979.9h0M630.9 982.6h0M632.7 980.4h0M634.5 985.4h0M636.2 986.4h0M638.0 982.4h0M639.8 984.7h0M641.5 982.9h0M643.3 984.3h0M645.1 987.2h0M646.9 982.7h0M648.6 980.8h0M650.4 985.2h0M652.2 984.8h0M653.9 985.3h0M655.7 986.2h0M657.5 982.5h0M659.3 979.9h0M661.0 986.6h0M662.8 983.6h0M664.5 982.1h0M666.3 982.3h0M668.1 987.5h0M669.8 985.7h0M671.6 986.2h0M673.3 987.6h0M675.1 984.6h0M676.8 984.0h0M678.5 984.9h0M680.3 984.7h0M682.0 986.7h0M683.7 985.8h0M685.5 988.1h0M687.2 987.4h0M688.9 988.7h0M690.6 990.6h0M692.3 992.6h0M694.0 993.3h0M695.7 990.8h0M697.4 991.5h0M699.1 990.6h0M700.7 994.1h0M702.4 995.7h0M704.1 992.0h0M705.7 995.3h0M707.4 993.7h0M709.0 994.6h0M710.6 995.9h0M712.3 995.5h0M713.9 998.6h0M715.5 994.8h0M717.3 997.1h0M719.2 998.9h0M721.0 998.1h0M722.8 1001.5h0M724.6 999.0h0M726.3 1002.7h0M728.1 1001.1h0M729.9 1004.2h0M731.6 1006.3h0M733.3 1010.1h0M735.0 1009.2h0M736.7 1011.0h0M738.4 1009.6h0M740.1 1013.9h0M741.8 1011.3h0M743.4 1012.4h0M745.0 1012.0h0M746.6 1015.4h0M748.4 1017.8h0M750.2 1016.8h0M752.0 1018.6h0M753.7 1019.8h0M755.4 1021.4h0M757.1 1022.5h0M758.8 1023.1h0M760.4 1027.9h0M762.0 1025.5h0M763.8 1028.4h0M765.6 1031.6h0M767.3 1034.0h0M769.0 1034.5h0M770.6 1036.3h0M772.2 1038.4h0M774.0 1040.2h0M775.7 1043.3h0M777.3 1044.3h0M779.0 1046.1h0M780.7 1048.9h0M782.4 1051.7h0M784.0 1054.9h0M785.7 1057.8h0M787.3 1059.4h0M789.0 1061.8h0M790.7 1065.0h0M792.4 1069.9h0M794.0 1072.1h0M795.6 1076.2h0M797.3 1080.7h0M798.9 1083.5h0M800.6 1088.0h0M802.2 1092.3h0M803.9 1096.9h0M805.5 1102.8h0M807.2 1108.3h0M808.8 1112.6h0M810.5 1119.8h0M812.1 1125.5h0M813.7 1132.1h0M815.4 1138.9h0M817.0 1145.1h0M818.7 1152.5h0M820.3 1159.1h0M821.9 1167.2h0M823.5 1174.1h0M825.2 1180.0h0M826.8 1186.1h0M828.4 1193.9h0M830.1 1200.0h0M831.8 1207.5h0M833.4 1214.0h0M835.0 1220.3h0M836.7 1225.8h0M838.3 1231.7h0M839.9 1238.1h0M841.6 1244.5h0M843.2 1250.1h0M844.8 1257.0h0M846.5 1262.7h0M848.1 1268.2h0M849.8 1273.8h0M851.4 1279.8h0M853.1 1285.7h0M854.7 1289.6h0M856.4 1295.9h0M858.0 1301.1h0M859.7 1306.1h0M861.3 1311.4h0M863.0 1316.6h0M864.6 1321.8h0M866.2 1324.7h0M867.9 1327.5h0M869.6 1329.3h0M871.4 1333.1h0M873.1 1332.9h0M874.8 1334.9h0M876.5 1337.2h0M878.3 1336.2h0M880.0 1335.1h0M881.6 1335.1h0M883.3 1336.0h0M885.1 1333.3h0M886.7 1332.2h0M888.5 1330.6h0M890.1 1327.8h0M891.8 1325.8h0M893.5 1322.5h0M895.2 1319.4h0M896.8 1315.1h0M898.5 1309.6h0M900.1 1305.6h0M901.7 1301.4h0M903.4 1295.7h0M905.0 1290.6h0M906.7 1285.9h0M908.3 1279.4h0M910.0 1274.1h0M911.6 1268.2h0M913.3 1262.0h0M914.9 1254.6h0M916.5 1247.7h0M918.1 1241.8h0M919.8 1233.2h0M921.4 1225.7h0M923.0 1218.8h0M924.7 1209.2h0M926.3 1199.8h0M927.9 1193.2h0M929.5 1183.3h0M931.1 1174.0h0M932.8 1166.0h0M934.4 1155.6h0M936.0 1147.2h0M937.7 1137.7h0M939.3 1128.8h0M940.9 1120.6h0M942.6 1112.1h0M944.2 1103.9h0M945.9 1095.6h0M947.5 1086.5h0M949.1 1078.6h0M950.8 1071.3h0M952.4 1062.7h0M954.0 1054.3h0M955.7 1046.8h0M957.3 1038.7h0M959.0 1030.6h0M960.6 1021.7h0M962.3 1013.6h0M963.9 1006.1h0M965.6 998.2h0M967.2 989.0h0M968.9 981.2h0M970.5 973.2h0M972.1 965.7h0M973.7 956.7h0M975.3 950.3h0M977.0 941.0h0M978.6 933.2h0M980.2 926.1h0M981.9 917.5h0M983.5 909.8h0M985.1 901.8h0M986.8 894.5h0M988.4 886.5h0M990.1 879.7h0M991.7 872.7h0M993.4 865.2h0M995.0 859.2h0M996.6 852.4h0M998.3 844.9h0M999.9 839.8h0M1001.5 832.7h0M1003.2 827.3h0M1004.8 820.7h0M1006.5 815.1h0M1008.2 809.7h0M1009.8 804.8h0M1011.5 797.8h0M1013.1 793.0h0M1014.7 788.0h0M1016.4 783.7h0M1018.1 778.4h0M1019.8 774.3h0M1021.4 770.5h0M1023.1 766.4h0M1024.8 762.0h0M1026.4 758.4h0M1028.1 755.2h0M1029.8 752.1h0M1031.4 748.6h0M1033.1 745.9h0M1034.7 743.2h0M1036.4 739.6h0M1038.1 736.6h0M1039.8 733.9h0M1041.5 731.0h0M1043.2 726.8h0M1044.9 723.7h0M1046.5 721.5h0M1048.2 717.7h0M1050.0 714.0h0M1051.6 711.7h0M1053.3 709.7h0M1054.9 705.8h0M1056.6 702.9h0M1058.3 701.0h0M1060.0 700.3h0M1061.7 696.2h0M1063.4 695.2h0M1065.1 693.8h0M1066.7 691.7h0M1068.4 688.9h0M1070.1 688.2h0M1071.9 686.0h0M1073.5 685.3h0M1075.2 683.3h0M1076.8 681.6h0M1078.5 677.7h0M1080.2 679.5h0M1082.0 677.1h0M1083.7 673.0h0M1085.5 674.6h0M1087.3 673.8h0M1088.9 672.1h0M1090.6 667.4h0M1092.2 669.0h0M1093.9 667.5h0M1095.6 667.5h0M1097.2 663.3h0M1099.0 666.5h0M1100.7 665.9h0M1102.4 665.0h0M1104.2 663.0h0M1105.9 662.0h0M1107.7 663.0h0M1109.5 661.1h0M1111.3 658.7h0M1113.0 659.1h0M1114.9 659.0h0M1116.7 659.0h0M1118.5 656.9h0M1120.3 653.8h0M1121.9 653.6h0M1123.6 654.2h0M1125.2 653.7h0M1126.8 654.3h0M1128.4 648.2h0M1130.1 649.7h0M1131.7 648.3h0M1133.4 651.8h0M1135.0 650.6h0M1136.6 649.1h0M1138.3 649.4h0M1140.0 646.1h0M1141.6 647.6h0M1143.3 646.1h0M1144.9 645.6h0M1146.6 644.5h0M1148.2 646.0h0M1149.9 645.7h0M1151.6 640.2h0M1153.2 641.4h0M1154.9 642.0h0M1156.6 642.4h0M1158.2 637.5h0M1159.9 638.3h0M1161.6 638.9h0M1163.2 642.4h0M1164.9 636.7h0M1166.6 637.1h0M1168.2 637.3h0M1169.9 636.6h0M1171.6 636.6h0M1173.3 635.7h0M1174.9 634.8h0M1176.6 635.3h0M1178.3 634.7h0M1180.0 634.4h0M1181.7 634.0h0M1183.3 630.3h0M1185.0 632.5h0M1186.7 632.0h0M1188.4 632.7h0M1190.1 632.1h0M1191.7 633.3h0M1193.4 628.1h0M1195.1 629.0h0M1196.8 629.2h0M1198.5 627.0h0M1200.2 627.3h0M1201.9 626.6h0M1203.6 626.0h0M1205.3 631.1h0M1207.0 625.9h0M1208.6 628.6h0M1210.3 623.4h0M1212.0 625.3h0M1213.7 623.0h0M1215.4 624.6h0M1217.1 626.9h0M1218.8 627.0h0M1220.5 624.3h0M1222.2 623.2h0M1223.9 621.8h0M1225.6 622.2h0M1227.3 623.8h0M1229.0 617.3h0M1230.7 619.6h0M1232.4 617.8h0M1234.1 621.5h0M1235.8 616.5h0M1237.5 620.4h0M1239.3 615.9h0M1241.0 615.7h0M1242.7 620.7h0M1244.4 619.3h0M1246.1 614.9h0M1247.8 612.8h0M1249.5 614.1h0M1251.2 617.0h0M1252.9 615.3h0M1254.6 613.1h0M1256.4 615.8h0M1258.1 617.2h0M1259.8 611.6h0M1261.5 613.5h0M1263.2 611.6h0M1264.9 615.3h0M1266.6 612.9h0M1268.4 611.0h0M1270.1 608.5h0M1271.8 613.2h0M1273.5 610.8h0M1275.2 611.3h0M1277.0 610.4h0M1278.7 611.3h0M1280.4 606.5h0M1282.1 608.1h0M1283.8 610.2h0M1285.6 613.0h0M1287.3 609.6h0M1289.0 608.5h0M1290.7 607.0h0M1292.5 606.6h0M1294.2 607.3h0M1295.9 605.8h0M1297.6 607.5h0M1299.4 606.9h0M1301.1 610.9h0M1302.8 606.2h0M1304.5 608.4h0M1306.3 604.9h0M1308.0 607.6h0M1309.7 610.5h0M1311.5 603.8h0M1313.2 602.3h0M1314.9 606.8h0M1316.7 604.4h0M1318.4 603.5h0M1320.1 604.7h0M1321.8 604.1h0M1323.6 605.9h0M1325.3 603.9h0M1327.0 601.5h0M1328.8 600.1h0M1330.5 598.6h0M1332.2 599.7h0M1334.0 604.2h0M1335.7 598.5h0M1337.4 601.4h0M1339.2 603.7h0M1340.9 602.1h0M1342.6 603.9h0M1344.4 602.0h0M1346.1 603.5h0M1347.9 598.7h0M1349.6 597.9h0M1351.3 603.7h0M1353.1 600.0h0M1354.8 599.2h0M1356.5 597.6h0M1358.3 602.0h0M1360.0 599.4h0M1361.7 599.2h0M1363.5 596.5h0M1365.2 597.9h0M1367.0 596.6h0M1368.7 597.1h0M1370.4 597.8h0M1372.2 595.8h0M1373.9 594.8h0M1375.7 598.1h0M1377.4 594.0h0M1379.1 599.0h0M1380.9 599.1h0M1382.6 592.6h0M1384.4 598.9h0M1386.1 593.4h0M1387.8 597.8h0M1389.6 593.5h0M1391.3 596.2h0M1393.1 592.1h0M1394.8 595.6h0M1396.5 594.2h0M1398.3 597.2h0M1400.0 595.2h0M1401.8 591.5h0M1403.5 593.9h0M1405.2 591.5h0M1407.0 593.2h0M1408.7 595.9h0M1410.5 595.8h0M1412.2 592.6h0M1413.9 590.3h0M1415.7 592.0h0M1417.4 596.1h0M1419.2 591.2h0M1420.9 588.1h0M1422.6 588.1h0M1424.4 588.3h0M1426.1 593.0h0M1427.9 589.8h0M1429.6 588.7h0M1431.3 590.9h0M1433.1 592.0h0M1434.8 589.4h0M1436.6 587.8h0M1438.3 589.8h0M1440.0 590.9h0M1441.8 585.4h0M1443.5 585.7h0M1445.2 592.9h0M1447.0 589.3h0M1448.7 588.9h0M1450.5 585.0h0M1452.2 585.7h0M1453.9 587.0h0M1455.7 590.1h0M1457.4 587.4h0M1459.2 583.5h0M1460.9 590.1h0M1462.6 590.0h0M1464.4 588.3h0M1466.1 583.8h0M1467.8 584.6h0M1469.6 585.2h0M1471.3 585.9h0M1473.0 589.3h0M1474.8 582.3h0M1476.5 583.4h0M1478.3 584.7h0M1480.0 583.3h0M1481.7 583.3h0M1483.5 581.0h0M1485.2 584.0h0M1486.9 583.0h0M1488.7 583.9h0M1490.4 585.3h0M1492.1 582.5h0M1493.9 582.6h0M1495.6 583.2h0M1497.3 581.5h0M1499.1 582.7h0M1500.8 578.3h0M1502.5 579.9h0M1504.2 582.7h0M1506.0 581.8h0M1507.7 582.9h0M1509.4 578.0h0M1511.2 579.5h0M1512.9 580.3h0M1514.6 580.0h0M1516.4 579.5h0M1518.1 582.8h0M1519.8 578.5h0M1521.5 578.6h0M1523.3 580.1h0M1525.0 579.8h0M1526.7 578.8h0M1528.4 581.8h0M1530.2 579.2h0M1531.9 577.3h0M1533.6 575.5h0M1535.3 579.9h0M1537.1 575.7h0M1538.8 577.6h0M1540.5 575.4h0M1542.2 580.7h0M1544.0 577.5h0M1545.7 571.9h0M1547.4 576.0h0M1549.1 572.2h0M1550.9 573.7h0M1552.6 576.3h0M1554.3 571.5h0M1556.0 574.7h0M1557.7 573.5h0M1559.5 575.0h0M1561.2 571.0h0M1562.9 574.1h0M1564.6 571.7h0M1566.3 574.3h0M1568.1 571.9h0M1569.8 572.9h0M1571.5 574.0h0M1573.2 573.2h0M1574.9 570.5h0M1576.7 571.7h0M1578.4 569.9h0M1580.1 570.4h0M1581.8 572.6h0M1583.5 567.0h0M1585.2 566.0h0M1587.0 569.1h0M1588.7 566.6h0M1590.4 570.0h0M1592.1 568.8h0M1593.8 568.0h0M1595.5 566.2h0M1597.2 564.9h0M1598.9 563.7h0M1600.7 564.0h0M1602.4 564.7h0M1604.1 562.3h0M1605.8 566.0h0M1607.5 564.8h0M1609.2 560.4h0M1610.9 557.1h0M1612.6 564.5h0M1614.3 559.3h0M1616.1 555.5h0M1617.8 557.6h0M1619.5 560.9h0M1621.2 562.8h0M1622.9 561.5h0M1624.6 562.1h0M1626.3 562.3h0M1628.0 562.0h0M1629.7 555.8h0M1631.4 556.9h0M1633.1 555.5h0M1634.8 556.4h0M1636.5 555.1h0M1638.2 555.8h0M1639.9 558.4h0M1641.6 552.8h0M1643.3 555.2h0M1645.0 551.3h0M1646.6 550.1h0M1648.3 554.1h0M1650.0 551.2h0M1651.7 551.1h0M1653.3 553.2h0M1655.0 547.2h0M1656.6 549.3h0M1658.3 551.4h0M1659.9 546.0h0M1661.6 547.8h0M1663.2 548.5h0M1664.9 547.8h0M1666.5 546.7h0M1668.1 546.6h0M1669.7 545.0h0M1671.6 544.7h0M1673.4 543.2h0M1675.2 540.0h0M1677.0 541.0h0M1678.8 539.8h0M1680.6 541.1h0M1682.4 539.1h0M1684.2 538.3h0M1685.9 536.8h0M1687.7 536.7h0M1689.4 533.7h0M1691.2 534.1h0M1692.9 531.5h0M1694.6 531.1h0M1696.3 528.9h0M1698.0 533.1h0M1699.6 529.5h0M1701.3 526.1h0M1702.9 525.9h0M1704.5 525.8h0M1706.2 523.6h0M1708.0 524.0h0M1709.7 522.2h0M1711.5 521.8h0M1713.2 515.1h0M1714.9 518.5h0M1716.6 516.4h0M1718.3 515.9h0M1720.0 512.5h0M1721.6 510.8h0M1723.2 508.9h0M1725.0 508.9h0M1726.4 507.0h0" stroke="#000" stroke-width="18.0"/>
<path d="M1724.8 383.1h0M1723.1 384.5h0M1721.4 384.4h0M1719.8 381.0h0M1718.1 384.7h0M1716.4 385.1h0M1714.8 386.2h0M1713.1 385.6h0M1711.5 387.3h0M1709.8 387.0h0M1708.1 385.9h0M1706.5 390.8h0M1704.8 391.3h0M1703.1 393.5h0M1701.4 390.7h0M1699.8 390.3h0M1698.1 390.6h0M1696.4 389.1h0M1694.8 394.7h0M1693.1 391.0h0M1691.4 391.4h0M1689.7 393.8h0M1688.1 397.8h0M1686.4 395.8h0M1684.7 393.7h0M1683.1 394.9h0M1681.4 398.1h0M1679.7 397.0h0M1678.0 396.3h0M1676.3 397.8h0M1674.7 400.3h0M1673.0 403.3h0M1671.3 397.3h0M1669.6 399.0h0M1668.0 399.2h0M1666.3 396.4h0M1664.6 399.9h0M1662.9 400.2h0M1661.2 405.0h0M1659.5 403.0h0M1657.9 400.4h0M1656.2 405.5h0M1654.5 403.9h0M1652.8 401.6h0M1651.1 404.4h0M1649.4 404.9h0M1647.8 404.8h0M1646.1 407.1h0M1644.4 402.9h0M1642.7 407.4h0M1641.0 410.5h0M1639.3 410.6h0M1637.6 411.6h0M1635.9 412.1h0M1634.3 413.3h0M1632.6 408.4h0M1630.9 412.9h0M1629.2 407.8h0M1627.5 410.8h0M1625.8 408.6h0M1624.1 415.1h0M1622.4 416.2h0M1620.7 413.4h0M1619.0 417.9h0M1617.3 413.3h0M1615.6 415.5h0M1613.9 415.9h0M1612.2 413.8h0M1610.5 417.3h0M1608.8 420.9h0M1607.1 415.2h0M1605.4 419.6h0M1603.7 417.8h0M1602.0 422.2h0M1600.3 420.0h0M1598.6 420.8h0M1596.9 421.1h0M1595.2 420.7h0M1593.5 417.7h0M1591.8 423.9h0M1590.1 418.6h0M1588.4 422.3h0M1586.7 423.5h0M1585.0 420.9h0M1583.3 423.3h0M1581.6 425.8h0M1579.9 423.7h0M1578.2 422.3h0M1576.5 418.4h0M1574.8 422.9h0M1573.1 424.1h0M1571.4 424.6h0M1569.7 424.1h0M1567.9 427.2h0M1566.2 425.6h0M1564.5 426.9h0M1562.8 429.0h0M1561.1 426.1h0M1559.4 427.6h0M1557.7 433.2h0M1556.0 430.8h0M1554.3 426.6h0M1552.5 429.5h0M1550.8 431.2h0M1549.1 433.0h0M1547.4 431.1h0M1545.7 430.0h0M1544.0 429.9h0M1542.2 433.1h0M1540.5 432.8h0M1538.8 431.3h0M1537.1 432.4h0M1535.4 432.2h0M1533.7 435.0h0M1531.9 432.3h0M1530.2 435.1h0M1528.5 436.2h0M1526.8 435.7h0M1525.1 433.2h0M1523.3 438.2h0M1521.6 434.2h0M1519.9 436.8h0M1518.2 434.6h0M1516.4 432.8h0M1514.7 437.3h0M1513.0 437.8h0M1511.3 437.3h0M1509.5 438.3h0M1507.8 436.6h0M1506.1 436.7h0M1504.4 438.2h0M1502.6 443.0h0M1500.9 440.9h0M1499.2 438.3h0M1497.4 440.9h0M1495.7 438.9h0M1494.0 439.2h0M1492.3 442.3h0M1490.5 439.6h0M1488.8 437.4h0M1487.1 439.3h0M1485.3 441.7h0M1483.6 442.1h0M1481.9 444.7h0M1480.1 440.7h0M1478.4 444.1h0M1476.7 443.7h0M1474.9 442.7h0M1473.2 445.0h0M1471.5 444.5h0M1469.7 441.8h0M1468.0 446.2h0M1466.3 441.5h0M1464.5 444.5h0M1462.8 444.6h0M1461.0 445.7h0M1459.3 443.5h0M1457.6 445.2h0M1455.8 445.2h0M1454.1 447.9h0M1452.4 444.2h0M1450.6 446.3h0M1448.9 445.8h0M1447.1 443.7h0M1445.4 452.5h0M1443.7 446.8h0M1441.9 443.9h0M1440.2 450.4h0M1438.4 445.2h0M1436.7 448.5h0M1435.0 449.8h0M1433.2 446.7h0M1431.5 447.4h0M1429.7 447.4h0M1428.0 448.4h0M1426.2 445.4h0M1424.5 446.4h0M1422.8 449.0h0M1421.0 451.8h0M1419.3 451.1h0M1417.5 453.6h0M1415.8 451.6h0M1414.1 449.2h0M1412.3 450.2h0M1410.6 446.2h0M1408.8 448.8h0M1407.1 448.8h0M1405.4 451.8h0M1403.6 452.8h0M1401.9 450.4h0M1400.1 450.5h0M1398.4 448.7h0M1396.7 451.9h0M1394.9 452.9h0M1393.2 453.6h0M1391.4 451.1h0M1389.7 457.3h0M1388.0 455.8h0M1386.2 453.2h0M1384.5 452.4h0M1382.7 453.1h0M1381.0 454.3h0M1379.3 454.2h0M1377.5 455.5h0M1375.8 456.3h0M1374.0 457.8h0M1372.3 457.5h0M1370.6 455.0h0M1368.8 456.3h0M1367.1 454.8h0M1365.4 454.6h0M1363.6 460.2h0M1361.9 455.3h0M1360.2 460.9h0M1358.4 456.0h0M1356.7 457.5h0M1355.0 459.6h0M1353.2 457.5h0M1351.5 458.5h0M1349.8 457.4h0M1348.0 457.1h0M1346.3 458.0h0M1344.6 457.2h0M1342.8 462.4h0M1341.1 458.8h0M1339.4 463.1h0M1337.6 453.8h0M1335.9 459.9h0M1334.2 461.3h0M1332.4 459.7h0M1330.7 463.0h0M1329.0 462.2h0M1327.3 460.5h0M1325.5 462.3h0M1323.8 467.7h0M1322.1 462.4h0M1320.3 462.7h0M1318.6 461.4h0M1316.9 462.9h0M1315.2 460.1h0M1313.4 462.7h0M1311.7 468.7h0M1310.0 465.9h0M1308.2 465.3h0M1306.5 466.5h0M1304.8 468.5h0M1303.1 465.9h0M1301.3 469.4h0M1299.6 467.5h0M1297.9 465.8h0M1296.2 469.4h0M1294.4 460.9h0M1292.7 465.0h0M1291.0 467.1h0M1289.2 464.8h0M1287.5 466.7h0M1285.8 465.9h0M1284.1 466.1h0M1282.3 473.6h0M1280.6 469.4h0M1278.9 468.2h0M1277.1 471.4h0M1275.4 468.3h0M1273.7 470.9h0M1272.0 470.0h0M1270.2 473.0h0M1268.5 466.7h0M1266.8 471.7h0M1265.0 470.5h0M1263.3 468.0h0M1261.6 473.1h0M1259.8 469.1h0M1258.1 474.8h0M1256.4 472.6h0M1254.7 473.2h0M1252.9 472.2h0M1251.2 474.2h0M1249.5 468.4h0M1247.7 472.8h0M1246.0 471.6h0M1244.3 473.8h0M1242.5 473.3h0M1240.8 474.9h0M1239.1 472.0h0M1237.3 478.0h0M1235.6 479.3h0M1233.9 474.0h0M1232.1 474.7h0M1230.4 475.5h0M1228.6 477.9h0M1226.9 479.5h0M1225.2 472.9h0M1223.4 474.4h0M1221.7 473.6h0M1220.0 473.7h0M1218.2 472.8h0M1216.5 477.3h0M1214.7 474.2h0M1213.0 480.2h0M1211.3 479.1h0M1209.5 475.1h0M1207.8 475.3h0M1206.0 476.4h0M1204.3 481.0h0M1202.5 476.3h0M1200.8 475.1h0M1199.1 478.4h0M1197.3 479.5h0M1195.6 477.4h0M1193.8 482.6h0M1192.1 479.8h0M1190.3 480.4h0M1188.6 477.7h0M1186.8 479.7h0M1185.1 479.6h0M1183.3 475.2h0M1181.6 481.0h0M1179.8 476.6h0M1178.1 480.7h0M1176.3 477.7h0M1174.6 485.5h0M1172.9 482.0h0M1171.1 483.4h0M1169.4 483.7h0M1167.6 479.0h0M1165.8 477.1h0M1164.1 481.5h0M1162.3 484.4h0M1160.6 482.8h0M1158.8 484.5h0M1157.1 485.1h0M1155.3 480.0h0M1153.6 484.0h0M1151.8 487.9h0M1150.1 482.6h0M1148.3 479.6h0M1146.6 483.7h0M1144.8 483.4h0M1143.1 485.6h0M1141.3 483.0h0M1139.6 485.3h0M1137.8 480.6h0M1136.1 487.4h0M1134.3 489.2h0M1132.6 488.9h0M1130.9 483.1h0M1129.1 487.3h0M1127.4 480.4h0M1125.6 487.7h0M1123.9 487.2h0M1122.2 485.5h0M1120.4 488.7h0M1118.7 488.5h0M1117.0 490.6h0M1115.3 489.1h0M1113.5 489.7h0M1111.8 485.4h0M1110.1 487.4h0M1108.4 489.2h0M1106.7 491.2h0M1105.0 490.9h0M1103.3 494.5h0M1101.6 489.9h0M1099.9 491.6h0M1098.2 493.0h0M1096.5 492.4h0M1094.8 494.4h0M1093.1 492.6h0M1091.5 497.2h0M1089.8 494.0h0M1088.1 497.4h0M1086.4 495.6h0M1084.8 499.2h0M1083.1 493.8h0M1081.4 498.2h0M1079.8 496.8h0M1078.1 498.6h0M1076.5 501.1h0M1074.8 497.0h0M1073.2 497.2h0M1071.6 498.4h0M1069.9 501.4h0M1068.3 497.8h0M1066.7 502.3h0M1065.0 500.2h0M1063.4 501.1h0M1061.8 503.2h0M1060.2 505.3h0M1058.5 504.0h0M1056.9 504.9h0M1055.3 506.4h0M1053.7 506.6h0M1051.9 502.8h0M1050.0 507.8h0M1048.2 509.5h0M1046.4 512.2h0M1044.5 514.7h0M1042.7 512.9h0M1040.9 512.7h0M1039.1 511.6h0M1037.3 514.3h0M1035.4 516.4h0M1033.6 518.1h0M1031.8 515.1h0M1030.0 517.9h0M1028.2 519.8h0M1026.4 522.5h0M1024.6 520.5h0M1022.8 520.0h0M1021.1 520.6h0M1019.3 522.1h0M1017.5 522.5h0M1015.7 526.0h0M1013.9 527.3h0M1012.1 527.6h0M1010.4 529.3h0M1008.6 527.4h0M1006.8 529.8h0M1005.0 529.4h0M1003.3 531.1h0M1001.5 534.0h0M999.7 532.9h0M998.0 530.7h0M996.2 534.4h0M994.4 534.6h0M992.7 534.2h0M990.9 536.4h0M989.2 540.3h0M987.4 542.5h0M985.6 539.8h0M983.9 543.3h0M982.1 544.6h0M980.4 541.6h0M978.6 544.5h0M976.9 545.5h0M975.1 546.8h0M973.4 544.9h0M971.6 548.0h0M969.9 551.3h0M968.2 552.6h0M966.4 554.6h0M964.7 552.0h0M962.9 556.6h0M961.2 555.6h0M959.4 553.3h0M957.7 557.8h0M956.0 557.0h0M954.2 559.4h0M952.5 559.4h0M950.7 562.5h0M949.0 562.0h0M947.2 562.1h0M945.5 565.1h0M943.8 565.0h0M942.0 564.9h0M940.3 568.7h0M938.5 566.8h0M936.8 567.5h0M935.1 568.6h0M933.3 568.1h0M931.6 570.6h0M929.8 575.6h0M928.1 571.9h0M926.3 574.4h0M924.6 573.5h0M922.8 575.3h0M921.1 579.9h0M919.4 579.8h0M917.6 578.2h0M915.9 580.2h0M914.1 579.8h0M912.4 580.8h0M910.6 581.5h0M908.9 582.5h0M907.1 585.5h0M905.3 586.9h0M903.6 587.7h0M901.8 587.5h0M900.1 586.4h0M898.3 589.5h0M896.5 589.0h0M894.8 593.0h0M893.0 593.4h0M891.2 594.6h0M889.5 593.6h0M887.7 592.0h0M885.9 597.7h0M884.1 599.1h0M882.4 595.3h0M880.6 599.0h0M878.8 601.8h0M877.0 598.6h0M875.2 604.5h0M873.4 601.7h0M871.7 601.3h0M869.9 606.5h0M868.1 605.4h0M866.3 604.6h0M864.5 608.2h0M862.7 604.0h0M860.9 611.6h0M859.1 607.8h0M857.3 610.6h0M855.5 610.2h0M853.7 612.6h0M851.9 614.2h0M850.0 612.0h0M848.2 615.7h0M846.4 614.6h0M844.6 614.8h0M842.8 616.4h0M841.0 615.9h0M839.2 617.1h0M837.4 621.1h0M835.5 619.9h0M833.7 623.1h0M831.9 622.7h0M830.1 620.8h0M828.3 620.1h0M826.4 623.1h0M824.6 625.7h0M822.8 626.0h0M821.0 625.3h0M819.2 629.5h0M817.3 625.3h0M815.5 627.0h0M813.7 630.4h0M811.9 635.0h0M810.0 632.5h0M808.2 630.8h0M806.4 634.5h0M804.6 635.5h0M802.7 636.8h0M800.9 635.1h0M799.1 635.2h0M797.2 637.7h0M795.4 639.0h0M793.6 642.0h0M791.7 643.7h0M789.9 639.2h0M788.1 640.4h0M786.4 641.9h0M784.8 642.3h0M783.2 644.3h0M781.6 645.0h0M780.0 645.2h0M778.4 647.9h0M776.8 645.8h0M775.1 644.7h0M773.5 644.4h0M771.9 646.1h0M770.3 646.7h0M768.7 645.8h0M767.1 651.2h0M765.4 651.0h0M763.8 650.5h0M762.2 650.2h0M760.6 649.6h0M758.9 651.5h0M757.3 657.4h0M755.7 650.3h0M754.1 655.4h0M752.4 657.2h0M750.8 656.7h0M749.2 656.4h0M747.6 659.1h0M745.9 656.2h0M744.3 660.0h0M742.7 662.3h0M741.0 658.2h0M739.4 659.3h0M737.8 661.7h0M736.2 664.0h0M734.5 665.3h0M732.9 664.7h0M731.3 662.7h0M729.6 662.5h0M728.0 665.7h0M726.4 666.6h0M724.8 664.4h0M723.1 667.3h0M721.5 668.4h0M719.9 670.4h0M718.2 667.2h0M716.6 670.7h0M715.0 668.1h0M713.3 670.1h0M711.7 671.4h0M710.1 675.1h0M708.5 679.2h0M706.8 674.0h0M705.2 675.1h0M703.6 676.7h0M701.9 672.9h0M700.3 677.5h0M698.7 674.4h0M697.1 680.5h0M695.4 680.8h0M693.8 679.6h0M692.2 677.8h0M690.6 683.2h0M688.9 681.2h0M687.3 681.5h0M685.7 683.1h0M684.1 679.5h0M682.4 684.1h0M680.8 685.9h0M679.2 685.3h0M677.6 685.6h0M676.0 684.3h0M674.4 687.9h0M672.7 687.8h0M671.1 688.1h0M669.5 687.8h0M667.9 691.1h0M666.3 692.5h0M664.7 691.6h0M663.1 693.3h0M661.2 694.9h0M659.4 696.2h0M657.5 694.5h0M655.7 694.5h0M653.9 695.0h0M652.1 696.6h0M650.2 698.4h0M648.4 700.0h0M646.6 698.3h0M644.8 700.2h0M643.0 699.0h0M641.1 704.0h0M639.3 701.9h0M637.5 704.1h0M635.7 703.1h0M633.9 704.7h0M632.1 704.9h0M630.3 710.0h0M628.5 708.5h0M626.8 708.5h0M625.0 708.1h0M623.2 709.6h0M621.4 712.6h0M619.7 715.4h0M617.9 711.0h0M616.1 712.9h0M614.4 715.1h0M612.6 715.3h0M610.9 714.5h0M609.1 718.3h0M607.4 720.5h0M605.7 717.7h0M603.9 721.6h0M602.2 723.9h0M600.5 724.9h0M598.8 723.6h0M597.1 729.0h0M595.4 727.3h0M593.7 726.1h0M592.0 730.0h0M590.3 727.7h0M588.6 732.0h0M586.9 729.7h0M585.3 733.9h0M583.6 732.9h0M581.9 736.6h0M580.3 737.1h0M578.6 737.8h0M577.0 738.3h0M575.4 741.0h0M573.8 737.9h0M572.1 742.3h0M570.5 743.4h0M568.7 744.9h0M566.9 746.6h0M565.1 752.0h0M563.4 748.3h0M561.6 750.6h0M559.8 751.1h0M558.1 754.4h0M556.4 750.9h0M554.6 757.3h0M552.9 755.6h0M551.2 755.0h0M549.5 757.9h0M547.8 760.5h0M546.1 762.5h0M544.5 763.6h0M542.8 766.2h0M541.2 766.7h0M539.5 768.1h0M537.9 767.3h0M536.3 771.8h0M534.5 774.2h0M532.8 774.3h0M531.0 774.5h0M529.3 776.9h0M527.5 781.9h0M525.8 781.3h0M524.2 783.1h0M522.5 784.8h0M520.8 788.1h0M519.2 788.8h0M517.5 790.4h0M515.9 791.8h0M514.2 795.2h0M512.4 798.3h0M510.7 799.4h0M509.0 802.5h0M507.3 804.1h0M505.7 806.2h0M504.0 808.5h0M502.4 810.6h0M500.8 813.6h0M499.0 815.6h0M497.3 817.4h0M495.6 820.4h0M494.0 822.8h0M492.3 825.7h0M490.7 828.0h0M489.0 831.0h0M487.3 832.7h0M485.6 836.6h0M483.9 839.9h0M482.3 841.3h0M480.6 846.0h0M478.9 848.4h0M477.2 851.3h0M475.6 853.7h0M473.9 858.4h0M472.2 860.9h0M470.6 864.5h0M468.9 868.7h0M467.2 871.7h0M465.6 875.4h0M464.0 879.3h0M462.3 883.7h0M460.7 888.2h0M459.0 892.6h0M457.3 897.1h0M455.7 901.5h0M454.0 906.7h0M452.3 911.6h0M450.7 918.3h0M449.1 923.2h0M447.4 928.5h0M445.8 935.6h0M444.1 944.2h0M442.5 951.1h0M440.9 961.0h0M440.3 965.1h0" stroke="#000" stroke-width="18.0"/>
<path d="M438.8 996.0h0" stroke="#000" stroke-width="18.0"/>
<path d="M434.1 719.9h0M1722.4 637.4h0M432.9 719.8h0M1721.8 607.5h0M1710.2 513.4h0M1008.5 796.1h0M1001.8 819.0h0M998.5 831.0h0M995.3 843.2h0M993.6 850.7h0M990.4 863.5h0M988.7 871.0h0M987.1 878.0h0M985.4 884.8h0M983.8 892.8h0M982.1 900.1h0M980.5 908.1h0M978.9 915.8h0M977.2 924.4h0M975.6 931.5h0M974.0 939.3h0M972.3 948.6h0M970.7 955.0h0M969.1 964.0h0M967.5 971.5h0M965.9 979.5h0M964.2 987.3h0M962.6 996.5h0M960.9 1004.4h0M959.3 1011.9h0M957.6 1020.0h0M956.0 1028.9h0M954.3 1037.0h0M952.7 1045.1h0M951.0 1052.6h0M949.4 1061.0h0M947.8 1069.6h0M946.1 1076.9h0M944.5 1084.8h0M942.9 1093.9h0M941.2 1102.2h0M939.6 1110.4h0M937.9 1118.9h0M936.3 1127.1h0M934.7 1136.0h0M933.0 1145.5h0M931.4 1153.9h0M929.8 1164.3h0M928.1 1172.3h0M926.5 1181.6h0M924.9 1191.5h0M923.3 1198.1h0M921.7 1207.5h0M920.0 1217.1h0M918.4 1224.0h0M916.8 1231.5h0M913.5 1246.0h0M911.9 1252.9h0M910.3 1260.3h0M905.3 1277.7h0M434.2 1059.7h0M1723.4 505.3h0M449.3 909.9h0M444.4 926.8h0M442.8 933.9h0M441.1 942.5h0M439.5 949.4h0M437.3 963.4h0M1721.8 381.4h0M435.8 994.3h0" stroke="#fff" stroke-opacity=".92" stroke-width="4.3"/>
</g>
<g><rect x="175.00" y="435.80" width="11.04" height="11.50" fill="#fff"/><rect x="195.07" y="435.80" width="8.93" height="11.50" fill="#fff"/><rect x="173.00" y="1085.80" width="11.54" height="11.50" fill="#fff"/><rect x="193.56" y="1085.80" width="9.44" height="11.50" fill="#fff"/></g>
</g></svg></body></html>
